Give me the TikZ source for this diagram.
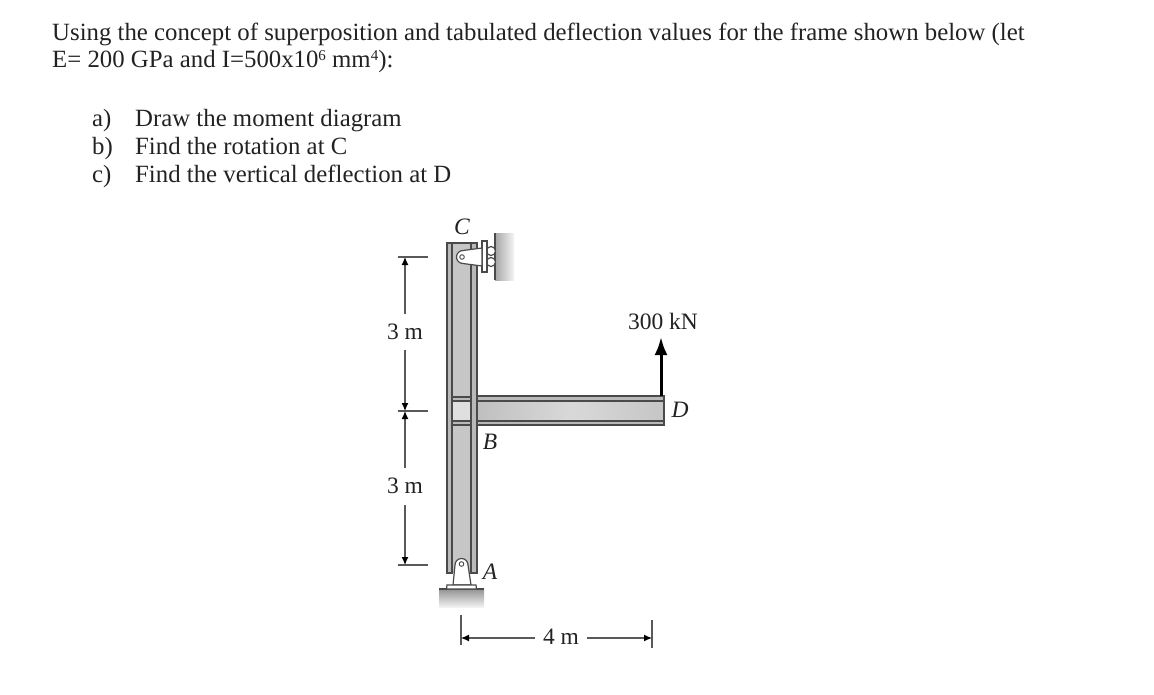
\documentclass[tikz,border=0pt]{standalone}
\usepackage{fontspec}
\setmainfont{Liberation Serif}
\usetikzlibrary{arrows.meta}
\definecolor{ink}{HTML}{222222}
\definecolor{steel}{HTML}{C6C6C6}
\definecolor{edge}{HTML}{4A4A4A}
\newcommand{\supr}[1]{\raisebox{7pt}{\fontsize{15}{15}\selectfont #1}}
\tikzset{
  body/.style={anchor=base west,inner sep=0pt,text=ink,font=\fontsize{24.8}{27}\selectfont},
  fig/.style={inner sep=0pt,text=ink,font=\fontsize{23.5}{26}\selectfont},
  figit/.style={inner sep=0pt,text=ink,font=\fontsize{23.5}{26}\selectfont\itshape},
  dimline/.style={draw=gray!70!black,line width=1.2pt},
  dimtick/.style={draw=gray!70!black,line width=1.5pt},
  dimarrow/.style={dimline,-{Latex[length=8pt,width=7pt,black]}},
  flange/.style={fill=gray!55,draw=edge,line width=1.3pt},
  pinpart/.style={fill=white,draw=edge,line width=1.2pt},
}
\begin{document}
\begin{tikzpicture}[x=1pt,y=-1pt]
\useasboundingbox (0,0) rectangle (1154,694);
% text
\node[body] (l1) at (52,40) {Using the concept of superposition and tabulated deflection values for the frame shown below (let};
\node[body] (l2) at (52,67) {E= 200 GPa and I=500x10\supr{6} mm\supr{4}):};
\node[body] (a1) at (92,126) {a)}; \node[body] (a2) at (135,126) {Draw the moment diagram};
\node[body] (b1) at (92,154) {b)}; \node[body] (b2) at (135,154) {Find the rotation at C};
\node[body] (c1) at (92,182) {c)}; \node[body] (c2) at (135,182) {Find the vertical deflection at D};
% wall at C
\shade[left color=gray!70,right color=gray!8] (495,233) rectangle (514,280);
\draw[edge,line width=1.3pt] (495,233) -- (495,280);
% beam
\shade[left color=gray!50,right color=gray!45,middle color=gray!30] (477,401) rectangle (664,421);
\fill[gray!55] (477,396) rectangle (664,401);
\fill[gray!55] (477,421) rectangle (664,425);
\draw[edge,line width=1.2pt] (477,396) -- (664,396) -- (664,425) -- (477,425);
\draw[edge,line width=1.2pt] (477,401) -- (664,401) (477,421) -- (664,421);
% column
\fill[steel] (452,243) rectangle (471,573);
\fill[gray!25] (452,401) rectangle (471,421);
\draw[flange] (447,243) rectangle (452,573);
\draw[flange] (471,243) rectangle (477,573);
\draw[edge,line width=1.3pt] (447,243) -- (477,243);
\draw[flange] (452,397) rectangle (471,401);
\draw[flange] (452,421) rectangle (471,425);
% bracket at C
\draw[pinpart] (491,251) circle (4.5);
\draw[pinpart] (491,262) circle (4.5);
\draw[pinpart] (482,241) rectangle (487,272);
\draw[pinpart] (482,248) -- (463,250.5) arc (-90:-270:6.5) -- (482,266) -- cycle;
\draw[pinpart,line width=0.9pt] (462,257) circle (2.3);
% support at A
\shade[top color=gray!85,bottom color=gray!10] (439,589) rectangle (484,607);
\draw[edge,line width=1.3pt] (439,589) -- (484,589);
\draw[pinpart] (453,585) -- (455,565) arc (180:360:6.5) -- (471,585) -- cycle;
\draw[pinpart] (446.5,589) -- (447,585) -- (476,585) -- (476.5,589) -- cycle;
\draw[pinpart,line width=0.9pt] (461.5,564) circle (2.3);
% labels
\node[figit] (C) at (462,227) {C};
\node[figit] (B) at (490,442) {B};
\node[figit] (A) at (490,572) {A};
\node[figit] (D) at (680,410) {D};
\node[fig] (load) at (663,321) {300 kN};
\node[fig] (d3a) at (405,332) {3 m};
\node[fig] (d3b) at (405,486) {3 m};
\node[fig] (d4) at (561,637) {4 m};
% load arrow
\coordinate (dtop) at (661,396);
\coordinate (dhead) at (661,337);
\draw[line width=3pt,-{Latex[length=18pt,width=13pt,black]},black] (dtop) -- (dhead);
% vertical dims
\coordinate (t1L) at (398,257); \coordinate (t1R) at (428,257);
\coordinate (t2L) at (398,411); \coordinate (t2R) at (428,411);
\coordinate (t3L) at (398,565); \coordinate (t3R) at (428,565);
\draw[dimtick] (t1L) -- (t1R);
\draw[dimtick] (t2L) -- (t2R);
\draw[dimtick] (t3L) -- (t3R);
\coordinate (v1) at (405,314); \coordinate (v1t) at (405,257);
\coordinate (v2) at (405,350); \coordinate (v2t) at (405,411);
\coordinate (v3) at (405,468); \coordinate (v3t) at (405,411);
\coordinate (v4) at (405,505); \coordinate (v4t) at (405,565);
\draw[dimarrow] (v1) -- (v1t);
\draw[dimarrow] (v2) -- (v2t);
\draw[dimarrow] (v3) -- (v3t);
\draw[dimarrow] (v4) -- (v4t);
% horizontal dim
\coordinate (h1t) at (461,615); \coordinate (h1b) at (461,645);
\coordinate (h2t) at (652,620); \coordinate (h2b) at (652,648);
\draw[dimtick] (h1t) -- (h1b);
\draw[dimtick] (h2t) -- (h2b);
\coordinate (hL) at (461,638); \coordinate (hLs) at (535,638);
\coordinate (hR) at (652,638); \coordinate (hRs) at (587,638);
\draw[dimarrow] (hLs) -- (hL);
\draw[dimarrow] (hRs) -- (hR);
\end{tikzpicture}
\end{document}
